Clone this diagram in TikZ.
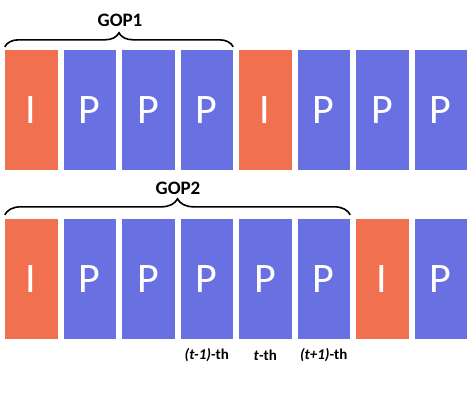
\documentclass[tikz,border=0pt]{standalone}
\usepackage{fontspec}
\setmainfont{Carlito}
\usetikzlibrary{decorations.pathreplacing}
\definecolor{iframe}{RGB}{240,112,80}
\definecolor{pframe}{RGB}{104,112,226}
\tikzset{
  frame/.style={minimum width=52.5pt, minimum height=120pt, inner sep=0pt, text=white,
    font=\fontsize{42}{42}\selectfont},
  iframebox/.style={frame, fill=iframe},
  pframebox/.style={frame, fill=pframe},
  gopbrace/.style={draw=black, line width=1.6pt, decorate,
    decoration={brace, amplitude=14pt}},
  goplabel/.style={font=\fontsize{19}{19}\selectfont\bfseries, inner sep=0pt},
  idxlabel/.style={font=\fontsize{15}{15}\selectfont\bfseries, inner sep=0pt}
}
\begin{document}
\begin{tikzpicture}[x=1pt, y=-1pt]
\useasboundingbox (0,0) rectangle (474,392);
% row 1
\node[iframebox] (a1) at (31.25,110) {I};
\node[pframebox] (a2) at (89.75,110) {P};
\node[pframebox] (a3) at (148.25,110) {P};
\node[pframebox] (a4) at (206.75,110) {P};
\node[iframebox] (a5) at (265.25,110) {I};
\node[pframebox] (a6) at (323.75,110) {P};
\node[pframebox] (a7) at (382.25,110) {P};
\node[pframebox] (a8) at (440.75,110) {P};
% row 2
\node[iframebox] (b1) at (31.25,279) {I};
\node[pframebox] (b2) at (89.75,279) {P};
\node[pframebox] (b3) at (148.25,279) {P};
\node[pframebox] (b4) at (206.75,279) {P};
\node[pframebox] (b5) at (265.25,279) {P};
\node[pframebox] (b6) at (323.75,279) {P};
\node[iframebox] (b7) at (382.25,279) {I};
\node[pframebox] (b8) at (440.75,279) {P};
% braces
\draw[gopbrace] ([yshift=3pt]a1.north west) -- ([yshift=3pt]a4.north east);
\node[goplabel] (g1) at (120,20) {GOP1};
\draw[gopbrace, decoration={brace, amplitude=16pt}] ([yshift=4pt]b1.north west) -- ([yshift=4pt]b6.north east);
\node[goplabel] (g2) at (178,188) {GOP2};
% index labels
\node[idxlabel] (l1) at (206.75,355) {\textit{(t-1)}-th};
\node[idxlabel] (l2) at (265.25,355) {\textit{t}-th};
\node[idxlabel] (l3) at (323.75,355) {\textit{(t+1)}-th};
\end{tikzpicture}
\end{document}
